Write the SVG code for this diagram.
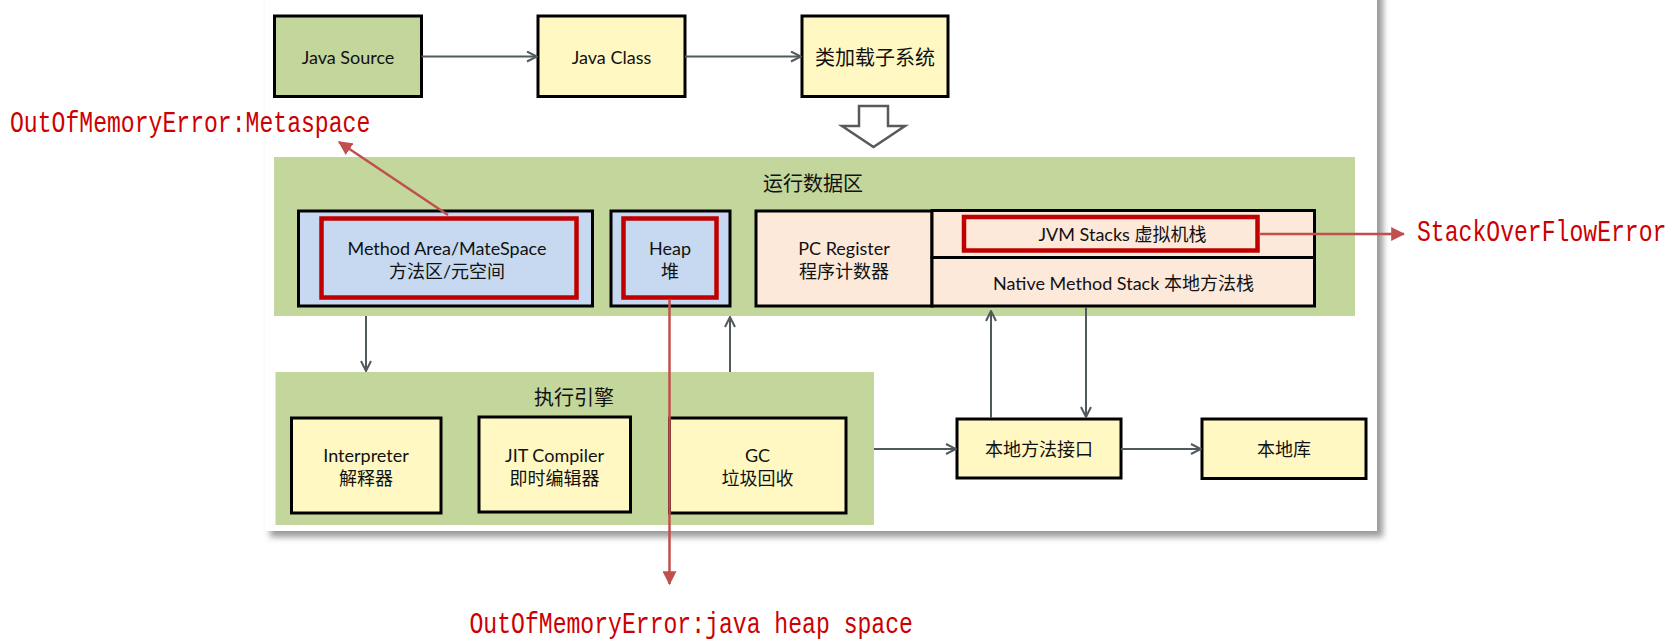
<svg xmlns="http://www.w3.org/2000/svg" width="1675" height="641" viewBox="0 0 1675 641">
<style>
.box{stroke:#000;stroke-width:3}
.y{fill:#fff8c3}
.g{fill:#c3d69b}
.b{fill:#c6d9f0}
.p{fill:#fde9da}
.red{fill:none;stroke:#c00000;stroke-width:4.5}
.t{font-family:Lato,"Noto Sans CJK SC",sans-serif;font-size:18px;fill:#111;text-anchor:middle;dominant-baseline:central}
.c{font-size:20px}
.err{font-family:"Liberation Mono",monospace;font-size:23.1px;fill:#cc0000}
.con{stroke:#505a5c;stroke-width:2;fill:none}
.rc{stroke:#c0504d;stroke-width:2.5;fill:none}
</style>
<defs>
<marker id="open" viewBox="0 0 12 12" refX="11" refY="6" markerWidth="12" markerHeight="12" markerUnits="userSpaceOnUse" orient="auto">
<path d="M1,1 L11,6 L1,11" fill="none" stroke="#505a5c" stroke-width="2"/>
</marker>
<marker id="tri" viewBox="0 0 12 12" refX="11" refY="6" markerWidth="14" markerHeight="14" markerUnits="userSpaceOnUse" orient="auto">
<path d="M0,0 L12,6 L0,12 Z" fill="#c0504d"/>
</marker>
<filter id="sh" x="-5%" y="-5%" width="110%" height="110%">
<feGaussianBlur stdDeviation="3"/>
</filter>
</defs>
<rect width="1675" height="641" fill="#fff"/>
<g id="panel">
<rect x="270" y="-10" width="1113" height="547" fill="#9a9a9a" filter="url(#sh)"/>
<rect x="265" y="-10" width="1112" height="541" fill="#fff"/>
</g>
<g id="runtime">
<rect x="274" y="157" width="1081" height="159" class="g"/>
<text class="t c" x="813" y="183">运行数据区</text>
</g>
<g id="engine">
<rect x="275.5" y="372" width="598.5" height="153" class="g"/>
<text class="t c" x="574" y="397">执行引擎</text>
</g>
<g id="java-source">
<rect x="274.5" y="16" width="147" height="80.5" class="box g"/>
<text class="t" x="348" y="57">Java Source</text>
</g>
<g id="java-class">
<rect x="538" y="16" width="147" height="80.5" class="box y"/>
<text class="t" x="611.5" y="57">Java Class</text>
</g>
<g id="classloader">
<rect x="802" y="16" width="146" height="80.5" class="box y"/>
<text class="t c" x="875" y="57">类加载子系统</text>
</g>
<g id="hollow-arrow">
<path d="M859,106 H888 V126 H905 L873.5,147 L842,126 H859 Z" fill="#fff" stroke="#595959" stroke-width="2.5" stroke-linejoin="miter"/>
</g>
<g id="method-area">
<rect x="298.5" y="211" width="294" height="95" class="box b"/>
<rect x="321.5" y="218.5" width="255" height="79" class="red"/>
<text class="t" x="447" y="248">Method Area/MateSpace</text>
<text class="t" x="447" y="271">方法区/元空间</text>
</g>
<g id="heap">
<rect x="611" y="211" width="119" height="95" class="box b"/>
<rect x="623.5" y="218.5" width="93" height="79" class="red"/>
<text class="t" x="670" y="248">Heap</text>
<text class="t" x="670" y="271">堆</text>
</g>
<g id="pc-register">
<rect x="756" y="211" width="176" height="95" class="box p"/>
<text class="t" x="844" y="248">PC Register</text>
<text class="t" x="844" y="271">程序计数器</text>
</g>
<g id="jvm-stacks">
<rect x="932" y="210.5" width="382.5" height="47" class="box p"/>
<rect x="964" y="217" width="293.5" height="33.5" class="red"/>
<text class="t" x="1122.5" y="234">JVM Stacks 虚拟机栈</text>
</g>
<g id="native-stack">
<rect x="932" y="257.5" width="382.5" height="48.5" class="box p"/>
<text class="t" x="1123.5" y="283">Native Method Stack 本地方法栈</text>
</g>
<g id="interpreter">
<rect x="291.5" y="418" width="149.5" height="95" class="box y"/>
<text class="t" x="366" y="455">Interpreter</text>
<text class="t" x="366" y="478">解释器</text>
</g>
<g id="jit">
<rect x="479" y="417" width="151.5" height="95" class="box y"/>
<text class="t" x="554.5" y="455">JIT Compiler</text>
<text class="t" x="554.5" y="478">即时编辑器</text>
</g>
<g id="gc">
<rect x="669.5" y="418" width="176.5" height="95" class="box y"/>
<text class="t" x="757.5" y="455">GC</text>
<text class="t" x="757.5" y="478">垃圾回收</text>
</g>
<g id="native-interface">
<rect x="957" y="419" width="164" height="59" class="box y"/>
<text class="t" x="1039" y="449">本地方法接口</text>
</g>
<g id="native-lib">
<rect x="1202" y="419" width="164" height="59.5" class="box y"/>
<text class="t" x="1284" y="449">本地库</text>
</g>
<g id="connectors">
<line x1="421.5" y1="56.5" x2="537" y2="56.5" class="con" marker-end="url(#open)"/>
<line x1="685" y1="56.5" x2="801" y2="56.5" class="con" marker-end="url(#open)"/>
<line x1="366" y1="316" x2="366" y2="371" class="con" marker-end="url(#open)"/>
<line x1="730" y1="372" x2="730" y2="317" class="con" marker-end="url(#open)"/>
<line x1="991" y1="418" x2="991" y2="311" class="con" marker-end="url(#open)"/>
<line x1="1086" y1="307" x2="1086" y2="417" class="con" marker-end="url(#open)"/>
<line x1="874" y1="449" x2="956" y2="449" class="con" marker-end="url(#open)"/>
<line x1="1121" y1="449" x2="1201" y2="449" class="con" marker-end="url(#open)"/>
<line x1="448" y1="215" x2="339" y2="142" class="rc" marker-end="url(#tri)"/>
<line x1="669.5" y1="299" x2="669.5" y2="584" class="rc" marker-end="url(#tri)"/>
<line x1="1259" y1="234" x2="1404" y2="234" class="rc" marker-end="url(#tri)"/>
</g>
<g id="errors">
<text class="err" transform="translate(10,132) scale(1,1.3)">OutOfMemoryError:Metaspace</text>
<text class="err" transform="translate(1417,240.5) scale(1,1.3)">StackOverFlowError</text>
<text class="err" transform="translate(469.5,633) scale(1,1.3)">OutOfMemoryError:java heap space</text>
</g>
</svg>
